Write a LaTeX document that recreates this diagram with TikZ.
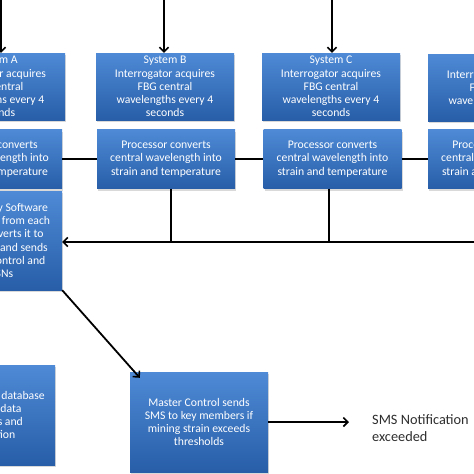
\documentclass[tikz,border=0pt]{standalone}
\usepackage{fontspec}
\setmainfont{Carlito}
\usetikzlibrary{arrows.meta,shadows,calc}
\definecolor{btop}{RGB}{78,138,214}
\definecolor{bbot}{RGB}{40,94,168}
\definecolor{notetext}{RGB}{45,45,45}
\begin{document}
\begin{tikzpicture}[x=1pt,y=-1pt,
  box/.style={top color=btop,bottom color=bbot,text=white,align=center,
    minimum width=138pt,inner sep=0pt,
    font=\fontsize{11.7}{13.2}\selectfont,
    drop shadow={shadow xshift=1pt,shadow yshift=-2pt,opacity=0.3}},
  line/.style={line width=1.8pt,black},
  arr/.style={line,-{Straight Barb[length=4.5pt,width=9pt,line width=1.6pt]}}]
\useasboundingbox (0,0) rectangle (474,474);
\clip (0,0) rectangle (474,474);
% top row
\node[box,minimum height=67pt] (A1) at (-4,86.5) {System A\\Interrogator acquires\\FBG central\\wavelengths every 4\\seconds};
\node[box,minimum height=67pt] (B1) at (165,86.5) {System B\\Interrogator acquires\\FBG central\\wavelengths every 4\\seconds};
\node[box,minimum height=67pt] (C1) at (331,86.5) {System C\\Interrogator acquires\\FBG central\\wavelengths every 4\\seconds};
\node[box,minimum height=67pt] (D1) at (497,87.5) {System D\\Interrogator acquires\\FBG central\\wavelengths every 4\\seconds};
% second row
\node[box,minimum height=59pt] (A2) at (-7,159) {Processor converts\\central wavelength into\\strain and temperature};
\node[box,minimum height=59pt] (B2) at (166,159) {Processor converts\\central wavelength into\\strain and temperature};
\node[box,minimum height=59pt] (C2) at (332.5,159) {Processor converts\\central wavelength into\\strain and temperature};
\node[box,minimum height=59pt] (D2) at (497,159) {Processor converts\\central wavelength into\\strain and temperature};
% monitoring
\node[box,minimum height=99pt] (M) at (-7,240.5) {Mining Safety Software\\acquires data from each\\system, converts it to\\strain values and sends\\to Master Control and\\to WSNs};
% database
\node[box,minimum height=100pt] (DB) at (-14,415) {Master Control database\\stores the data\\for analysis and\\visualization};
% master control
\node[box,minimum height=100pt] (S) at (199,422) {Master Control sends\\SMS to key members if\\mining strain exceeds\\thresholds};
\node[anchor=west,align=left,text=notetext,inner sep=0pt,
  font=\fontsize{14.3}{17}\selectfont] (N) at (372,428) {SMS Notification\\exceeded};
% top arrows
\coordinate (tA) at (1,-5);
\coordinate (tB) at (164,-5);
\coordinate (tC) at (332,-5);
\draw[arr] (tA) -- (tA |- A1.north);
\draw[arr] (tB) -- (tB |- B1.north);
\draw[arr] (tC) -- (tC |- C1.north);
% row 2 links
\draw[line] (A2) -- (B2);
\draw[line] (B2) -- (C2);
\draw[line] (C2) -- (D2);
% bus
\coordinate (busR) at (480,242);
\draw[arr] (busR) -- (busR -| M.east);
\draw[line] ([xshift=5pt]B2.south) -- ([xshift=5pt]B2.south |- busR);
\draw[line] ([xshift=-3.5pt]C2.south) -- ([xshift=-3.5pt]C2.south |- busR);
% diagonal
\draw[arr] (M.south east) -- ($(S.north west)+(10,6)$);
% to SMS
\draw[arr,shorten >=23pt] (S.east) -- (S.east -| N.west);
\end{tikzpicture}
\end{document}
